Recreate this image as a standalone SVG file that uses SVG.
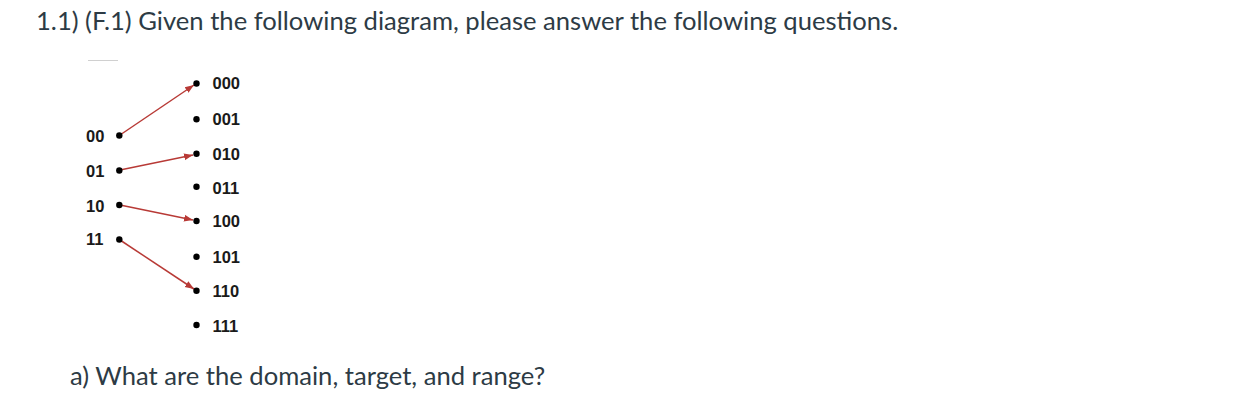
<svg xmlns="http://www.w3.org/2000/svg" width="1252" height="406" viewBox="0 0 1252 406">
<defs>
<style>
.q{font-family:Lato,"Liberation Sans",sans-serif;font-size:25.6px;fill:#2d3b45}
.lbl{font-family:"Liberation Sans",Arial,sans-serif;font-size:16.5px;font-weight:bold;fill:#1a1a1a}
.dot{fill:#000}
.arr{stroke:#b83a36;stroke-width:1.5;fill:none;marker-end:url(#ah)}
</style>
<marker id="ah" viewBox="0 0 10 10" refX="10" refY="5" markerWidth="9" markerHeight="9" orient="auto" markerUnits="userSpaceOnUse">
<path d="M0,1.2 L10,5 L0,8.8 z" fill="#b83a36"/>
</marker>
</defs>
<rect width="1252" height="406" fill="#fff"/>
<text class="q" x="36" y="30">1.1) (F.1) Given the following diagram, please answer the following questions.</text>
<line x1="88" y1="60.5" x2="118" y2="60.5" stroke="#d0d0d0" stroke-width="1"/>
<g id="connectors">
<line class="arr" x1="120" y1="135" x2="194" y2="85"/>
<line class="arr" x1="120" y1="170" x2="193" y2="155"/>
<line class="arr" x1="120" y1="205" x2="193" y2="220"/>
<line class="arr" x1="120" y1="240" x2="194" y2="289"/>
</g>
<g id="d00"><circle class="dot" cx="119.3" cy="135.5" r="3.2"/><text class="lbl" x="86" y="141.5">00</text></g>
<g id="d01"><circle class="dot" cx="119.3" cy="170.5" r="3.2"/><text class="lbl" x="86" y="176.5">01</text></g>
<g id="d10"><circle class="dot" cx="119.3" cy="205" r="3.2"/><text class="lbl" x="86" y="211.5">10</text></g>
<g id="d11"><circle class="dot" cx="119.3" cy="239.5" r="3.2"/><text class="lbl" x="86" y="245">11</text></g>
<g id="c000"><circle class="dot" cx="196.5" cy="83.5" r="3.2"/><text class="lbl" x="212.5" y="89.3">000</text></g>
<g id="c001"><circle class="dot" cx="196.5" cy="119.3" r="3.2"/><text class="lbl" x="212.5" y="125">001</text></g>
<g id="c010"><circle class="dot" cx="196.5" cy="153.7" r="3.2"/><text class="lbl" x="212.5" y="160">010</text></g>
<g id="c011"><circle class="dot" cx="196.5" cy="186.7" r="3.2"/><text class="lbl" x="212.5" y="194">011</text></g>
<g id="c100"><circle class="dot" cx="196.5" cy="221" r="3.2"/><text class="lbl" x="212.5" y="227.3">100</text></g>
<g id="c101"><circle class="dot" cx="196.5" cy="256.7" r="3.2"/><text class="lbl" x="212.5" y="262.7">101</text></g>
<g id="c110"><circle class="dot" cx="196.5" cy="290.7" r="3.2"/><text class="lbl" x="212.5" y="297.3">110</text></g>
<g id="c111"><circle class="dot" cx="196.5" cy="325" r="3.2"/><text class="lbl" x="212.5" y="331.7">111</text></g>
<text class="q" x="70" y="385">a) What are the domain, target, and range?</text>
</svg>
